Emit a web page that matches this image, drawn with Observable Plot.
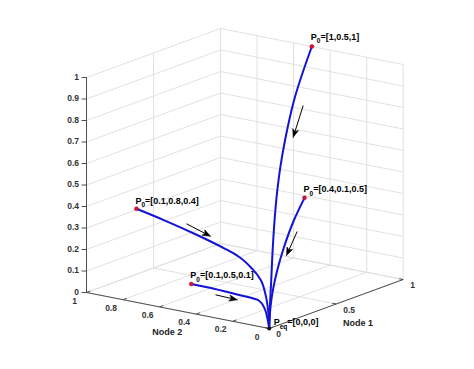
<!DOCTYPE html>
<html><head><meta charset="utf-8">
<script src="https://cdn.jsdelivr.net/npm/d3@7"></script>
<script src="https://cdn.jsdelivr.net/npm/@observablehq/plot@0.6"></script>
<style>html,body{margin:0;padding:0;background:#fff} svg{display:block}</style>
</head><body><div id="chart"></div>
<script>
// Trajectory samples [Node 1, Node 2, Node 3]
const trajA = [[1,0.5,1],[0.58,0.29,0.879],[0.37,0.185,0.759],[0.26,0.13,0.668],[0.19,0.095,0.583],[0.138,0.069,0.492],[0.084,0.042,0.35],[0.045,0.022,0.209],[0.016,0.008,0.093],[0,0,0]];
const trajB = [[0.4,0.1,0.5],[0.279,0.07,0.427],[0.166,0.041,0.333],[0.091,0.023,0.245],[0.041,0.01,0.166],[0.015,0.004,0.095],[0.001,0,0.023],[0,0,0]];
const trajC = [[0.1,0.8,0.4],[0.079,0.635,0.38],[0.054,0.434,0.35],[0.033,0.263,0.318],[0.023,0.183,0.298],[0.013,0.102,0.257],[0.0066,0.052,0.217],[0.0028,0.022,0.153],[0.0008,0.006,0.081],[0,0,0]];
const trajD = [[0.1,0.5,0.1],[0.097,0.374,0.1],[0.082,0.235,0.1],[0.059,0.1,0.1],[0.02,0.039,0.08],[0.005,0.013,0.042],[0,0,0]];

// Start points and labels
const startPoints = [[1,0.5,1],[0.4,0.1,0.5],[0.1,0.8,0.4],[0.1,0.5,0.1]];
const startLabels = ["P_0=[1,0.5,1]","P_0=[0.4,0.1,0.5]","P_0=[0.1,0.8,0.4]","P_0=[0.1,0.5,0.1]"];
const eqPoint = [0,0,0];
const eqLabel = "P_eq=[0,0,0]";

// Annotation arrows (normalized figure units, like MATLAB annotation)
const arrowX1 = [0.6386,0.6259,0.3924,0.4536];
const arrowY1 = [0.7154,0.3740,0.3949,0.2024];
const arrowX2 = [0.6175,0.6034,0.4430,0.4994];
const arrowY2 = [0.6295,0.3089,0.3612,0.1889];

// Ticks
const zTicks = [0,0.1,0.2,0.3,0.4,0.5,0.6,0.7,0.8,0.9,1];
const zTickLabels = ["0","0.1","0.2","0.3","0.4","0.5","0.6","0.7","0.8","0.9","1"];
const n2Ticks = [0,0.2,0.4,0.6,0.8,1];
const n2TickLabels = ["0","0.2","0.4","0.6","0.8","1"];
const n1Ticks = [0,0.5,1];
const n1TickLabels = ["0","0.5","1"];

const W = 474, H = 369;
// Camera: orthographic projection into normalized figure coordinates
const view = {o:[0.56688,0.11111], e1:[0.28270,0.13279], e2:[-0.38544,0.09756], e3:[0,0.58266]};
const PX = ([a,b,c]) => view.o[0] + a*view.e1[0] + b*view.e2[0] + c*view.e3[0];
const PY = ([a,b,c]) => view.o[1] + a*view.e1[1] + b*view.e2[1] + c*view.e3[1];
const seg = (p, q) => ({x1: PX(p), y1: PY(p), x2: PX(q), y2: PY(q)});

// grid on back planes
const grid = [];
for (const z of zTicks) { grid.push(seg([0,1,z],[1,1,z])); grid.push(seg([1,0,z],[1,1,z])); }
for (const a of n1Ticks) { grid.push(seg([a,1,0],[a,1,1])); grid.push(seg([a,0,0],[a,1,0])); }
for (const b of n2Ticks) { grid.push(seg([1,b,0],[1,b,1])); grid.push(seg([0,b,0],[1,b,0])); }

const axes = [seg([0,1,0],[0,1,1]), seg([0,0,0],[0,1,0]), seg([0,0,0],[1,0,0])];
const ticks = [];
for (const z of zTicks) { const p=[0,1,z]; ticks.push({x1:PX(p), y1:PY(p), x2:PX(p)-5/W, y2:PY(p)}); }
for (const b of n2Ticks) ticks.push(seg([0,b,0],[0.028,b,0]));
for (const a of n1Ticks) ticks.push(seg([a,0,0],[a,0.022,0]));

const toXY = arr => arr.map(p => ({x: PX(p), y: PY(p)}));
const lines = [trajA, trajB, trajC, trajD].map(toXY);

// arrows: shafts + filled "vback" heads
const shafts = [], heads = [];
arrowX1.forEach((_, i) => {
  const ax = arrowX1[i]*W, ay = arrowY1[i]*H, bx = arrowX2[i]*W, by = arrowY2[i]*H;
  const len = Math.hypot(bx-ax, by-ay), ux = (bx-ax)/len, uy = (by-ay)/len;
  const L = 8, Wd = 3, N = 6;
  const back = [bx-ux*L, by-uy*L], notch = [bx-ux*N, by-uy*N];
  shafts.push({x1: arrowX1[i], y1: arrowY1[i], x2: notch[0]/W, y2: notch[1]/H});
  const pts = [[bx,by],[back[0]-uy*Wd, back[1]+ux*Wd],[notch[0],notch[1]],[back[0]+uy*Wd, back[1]-ux*Wd],[bx,by]];
  pts.forEach(p => heads.push({x: p[0]/W, y: p[1]/H, k: i}));
});

const startData = startPoints.map((p, i) => ({x: PX(p), y: PY(p), label: startLabels[i]}));
const eqData = [{x: PX(eqPoint), y: PY(eqPoint), label: eqLabel}];

const font = "Liberation Sans, Arial, Helvetica, sans-serif";
const zLab = zTicks.map((z, i) => ({x: PX([0,1,z]), y: PY([0,1,z]), t: zTickLabels[i]}));
const n2Lab = n2Ticks.map((b, i) => ({x: PX([0,b,0]), y: PY([0,b,0]), t: n2TickLabels[i]}));
const n1Lab = n1Ticks.map((a, i) => ({x: PX([a,0,0]), y: PY([a,0,0]), t: n1TickLabels[i]}));

const labOffsets = [[-1,-9.5],[-1,-8.5],[-1,-8],[-1,-8.6]];

const plot = Plot.plot({
  width: W, height: H, margin: 0,
  x: {domain: [0,1], range: [0,W], axis: null},
  y: {domain: [0,1], range: [H,0], axis: null},
  style: {background: "#fff", fontFamily: font},
  marks: [
    Plot.link(grid, {x1:"x1", y1:"y1", x2:"x2", y2:"y2", stroke:"#dedede", strokeWidth:0.9}),
    Plot.link(axes, {x1:"x1", y1:"y1", x2:"x2", y2:"y2", stroke:"#3c3c3c", strokeWidth:0.9}),
    Plot.link(ticks, {x1:"x1", y1:"y1", x2:"x2", y2:"y2", stroke:"#3c3c3c", strokeWidth:0.9}),
    Plot.text(zLab, {x:"x", y:"y", text:"t", textAnchor:"end", dx:-7.5, dy:-0.6, fontSize:8.5, fontWeight:"bold", fill:"#333"}),
    Plot.text(n2Lab, {x:"x", y:"y", text:"t", textAnchor:"middle", dx:-12, dy:8.4, fontSize:8.5, fontWeight:"bold", fill:"#333"}),
    Plot.text(n1Lab, {x:"x", y:"y", text:"t", textAnchor:"start", dx:7, dy:5.8, fontSize:8.5, fontWeight:"bold", fill:"#333"}),
    Plot.text([{x: PX([0,0.5,0]), y: PY([0,0.5,0])}], {x:"x", y:"y", text: () => "Node 2", dx:-10.7, dy:21.7, fontSize:9, fontWeight:"bold", fill:"#222"}),
    Plot.text([{x: PX([0.5,0,0]), y: PY([0.5,0,0])}], {x:"x", y:"y", text: () => "Node 1", dx:21.8, dy:19.2, fontSize:9, fontWeight:"bold", fill:"#222"}),
    ...lines.map(l => Plot.line(l, {x:"x", y:"y", stroke:"#1212d8", strokeWidth:2, curve:"monotone-y"})),
    Plot.link(shafts, {x1:"x1", y1:"y1", x2:"x2", y2:"y2", stroke:"#000", strokeWidth:1}),
    Plot.line(heads, {x:"x", y:"y", z:"k", fill:"#000", stroke:"#000", strokeWidth:0.6, curve:"linear-closed"}),
    Plot.dot(startData, {x:"x", y:"y", r:2, fill:"#d4143c", stroke:"#b00020", strokeWidth:0.5}),
    Plot.dot(eqData, {x:"x", y:"y", r:2, fill:"#111"}),
    ...startData.map((d, i) => Plot.text([d], {x:"x", y:"y", text:"label", textAnchor:"start", dx:labOffsets[i][0], dy:labOffsets[i][1], fontSize:9, fontWeight:"bold", fill:"#000"})),
    Plot.text(eqData, {x:"x", y:"y", text:"label", textAnchor:"start", dx:4.5, dy:-6, fontSize:9, fontWeight:"bold", fill:"#000"})
  ]
});
document.getElementById("chart").append(plot);

// subscripts (P_0, P_eq)
const ns = "http://www.w3.org/2000/svg";
plot.querySelectorAll('text').forEach(t => {
  const s = t.textContent;
  const m = s.match(/^P_(\w+)(=.*)$/);
  if (!m) return;
  while (t.firstChild) t.removeChild(t.firstChild);
  const a = document.createElementNS(ns, "tspan"); a.textContent = "P";
  const b = document.createElementNS(ns, "tspan"); b.textContent = m[1]; b.setAttribute("dy", "3.5"); b.setAttribute("font-size", "6.5");
  const c = document.createElementNS(ns, "tspan"); c.textContent = m[2]; c.setAttribute("dy", "-3.5");
  t.append(a, b, c);
});
</script>
</body></html>
